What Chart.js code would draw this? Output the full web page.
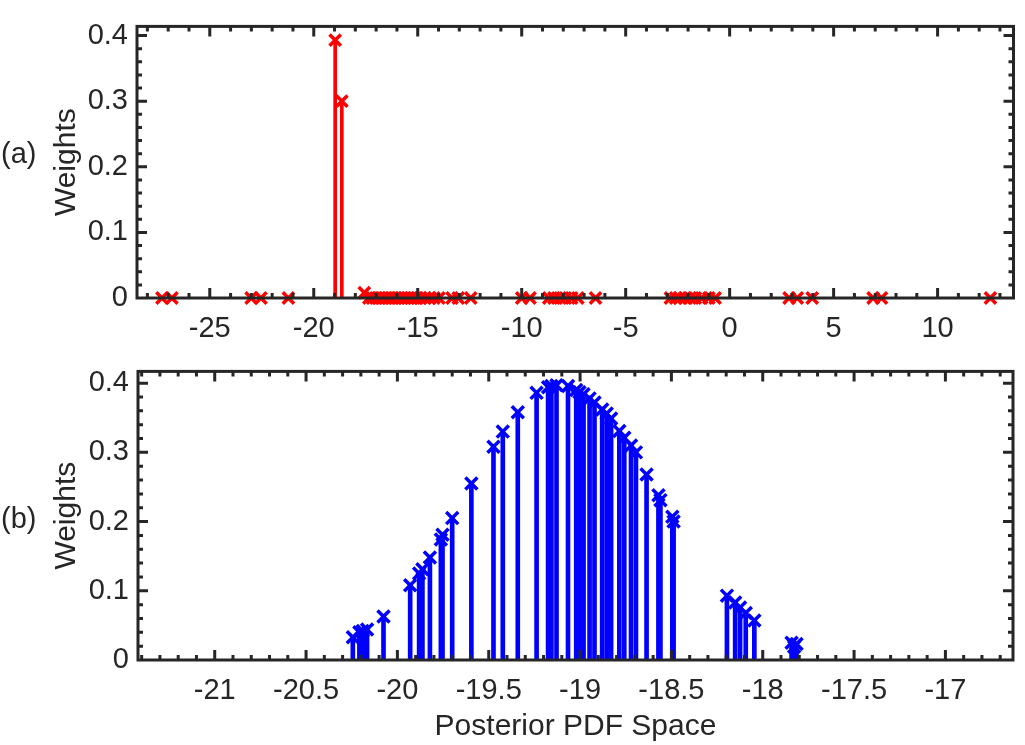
<!DOCTYPE html>
<html>
<head>
<meta charset="utf-8">
<script src="https://cdn.jsdelivr.net/npm/chart.js@4.4.1/dist/chart.umd.min.js"></script>
<style>
  html, body { margin: 0; padding: 0; background: #fff; }
  #wrap  { position: relative; width: 1025px; height: 745px; overflow: hidden; font-family: "Liberation Sans", Arial, sans-serif; }
  canvas { position: absolute; left: 0; }
  .tag   { position: absolute; left: 1px; font-size: 29px; line-height: 1; color: #262626; }
</style>
</head>
<body>
<div id="wrap">
  <canvas id="chartA" width="1025" height="360" style="top:0"></canvas>
  <canvas id="chartB" width="1025" height="400" style="top:345px"></canvas>
  <div class="tag" style="top:139px">(a)</div>
  <div class="tag" style="top:504px">(b)</div>
</div>

<script>
// (a) full posterior space: particle positions and weights
const aX = [
  -27.30, -26.82, -23.01, -22.54, -21.22,
  -18.97, -18.65, -17.57,
  -17.35, -17.18, -17.02, -16.86, -16.70, -16.55, -16.40, -16.24, -16.08, -15.92, -15.77,
  -15.62, -15.47, -15.32, -15.17, -15.02, -14.85, -14.65, -14.45, -14.22, -13.98,
  -13.35, -13.05, -12.45,
  -10.00, -9.60,
  -8.70, -8.45, -8.15, -7.90, -7.60, -7.30, -6.45,
  -2.85, -2.60, -2.40, -2.15, -1.90, -1.65, -1.35, -1.00, -0.70,
  2.86, 3.25, 3.97, 6.90, 7.30, 12.54
]
const aY = [
  0, 0, 0, 0, 0,
  0.393, 0.300, 0.008,
  0, 0, 0, 0, 0, 0, 0, 0, 0, 0, 0,
  0, 0, 0, 0, 0, 0, 0, 0, 0, 0,
  0, 0, 0,
  0, 0,
  0, 0, 0, 0, 0, 0, 0,
  0, 0, 0, 0, 0, 0, 0, 0, 0,
  0, 0, 0, 0, 0, 0
]

// (b) zoom on the main mode
const bX = [
  -20.244, -20.208, -20.190, -20.166, -20.076,
  -19.930, -19.881, -19.863, -19.822, -19.762, -19.753, -19.700,
  -19.595, -19.474, -19.423, -19.341, -19.238,
  -19.175, -19.157, -19.129, -19.066, -19.021, -19.003, -18.981,
  -18.948, -18.921, -18.879, -18.854, -18.830, -18.785, -18.758, -18.721, -18.694,
  -18.636, -18.571, -18.560, -18.495, -18.488,
  -18.196, -18.151, -18.124, -18.093, -18.046,
  -17.842, -17.828, -17.815
]
const bY = [
  0.033, 0.040, 0.042, 0.044, 0.063,
  0.108, 0.125, 0.131, 0.148, 0.174, 0.181, 0.205,
  0.255, 0.308, 0.330, 0.358, 0.386,
  0.394, 0.396, 0.397, 0.396, 0.390, 0.387, 0.384,
  0.378, 0.372, 0.362, 0.356, 0.349, 0.331, 0.321, 0.310, 0.300,
  0.268, 0.238, 0.231, 0.207, 0.200,
  0.093, 0.083, 0.076, 0.068, 0.057,
  0.025, 0.019, 0.023
]

const aXTicks = [-25, -20, -15, -10, -5, 0, 5, 10]
const bXTicks = [-21, -20.5, -20, -19.5, -19, -18.5, -18, -17.5, -17]
const yTicks  = [0, 0.1, 0.2, 0.3, 0.4]

const axisColor = '#262626'
const fontFam   = '"Liberation Sans", Arial, Helvetica, sans-serif'
const tickSize  = 29
const titleSize = 30

// MATLAB-like box with inward major/minor ticks on all four sides
const boxAxes = {
  id: 'boxAxes',
  afterDatasetsDraw(chart, args, opts)
  {
    const { ctx, chartArea: a, scales: { x, y } } = chart
    const majorLen = 10, minorLen = 5

    const each = (min, max, step, fn) => {
      const n0 = Math.ceil(min / step - 1e-9)
      for( let i = n0; i * step <= max + 1e-9; i++ ) fn(i * step)
    }

    ctx.save()
    ctx.strokeStyle = axisColor
    ctx.lineWidth   = 3
    ctx.beginPath()

    const xTick = (v, len) => {
      const px = x.getPixelForValue(v)
      if( px <= a.left + 1 || px >= a.right - 1 ) return
      ctx.moveTo(px, a.bottom); ctx.lineTo(px, a.bottom - len)
      ctx.moveTo(px, a.top);    ctx.lineTo(px, a.top + len)
    }
    const yTick = (v, len) => {
      const py = y.getPixelForValue(v)
      if( py <= a.top + 1 || py >= a.bottom - 1 ) return
      ctx.moveTo(a.left, py);  ctx.lineTo(a.left + len, py)
      ctx.moveTo(a.right, py); ctx.lineTo(a.right - len, py)
    }

    each(x.min, x.max, opts.xMinor, v => xTick(v, minorLen))
    each(y.min, y.max, opts.yMinor, v => yTick(v, minorLen))
    x.ticks.forEach(t => xTick(t.value, majorLen))
    y.ticks.forEach(t => yTick(t.value, majorLen))
    ctx.stroke()

    ctx.strokeRect(a.left, a.top, a.right - a.left, a.bottom - a.top)
    ctx.restore()
  }
}

function makeChart(id, xs, ys, color, cfg)
{
  const points = xs.map((x, i) => ({ x: x, y: ys[i] }))

  return new Chart(document.getElementById(id), {
    type: 'scatter',
    data: {
      datasets: [
        {
          type:             'scatter',
          data:             points,
          pointStyle:       'crossRot',
          pointRadius:      cfg.markerRadius,
          borderColor:      color,
          backgroundColor:  color,
          pointBorderWidth: 3.5,
          clip:             false,
          order:            0
        },
        {
          type:            'bar',
          data:            points,
          backgroundColor: color,
          barThickness:    cfg.stemWidth,
          order:           1
        }
      ]
    },
    options: {
      responsive: false,
      animation:  false,
      layout: { padding: cfg.padding },
      plugins: {
        legend:  { display: false },
        tooltip: { enabled: false },
        boxAxes: { xMinor: cfg.xMinor, yMinor: 0.02 }
      },
      scales: {
        x: {
          type:   'linear',
          min:    cfg.xMin,
          max:    cfg.xMax,
          offset: false,
          grid:   { display: false, drawTicks: false },
          border: { display: false },
          afterBuildTicks: s => { s.ticks = cfg.xTicks.map(v => ({ value: v })) },
          afterFit: s => { s.height = cfg.xHeight },
          ticks: {
            autoSkip: false, maxRotation: 0, padding: 14,
            color: axisColor, font: { family: fontFam, size: tickSize },
            callback: v => String(v)
          },
          title: cfg.xTitle
            ? { display: true, text: cfg.xTitle, color: axisColor, padding: { top: 0, bottom: 0 },
                font: { family: fontFam, size: titleSize } }
            : { display: false }
        },
        y: {
          type:   'linear',
          min:    0,
          max:    cfg.yMax,
          grid:   { display: false, drawTicks: false },
          border: { display: false },
          afterBuildTicks: s => { s.ticks = yTicks.map(v => ({ value: v })) },
          afterFit: s => { s.width = cfg.yWidth },
          ticks: {
            padding: 9, color: axisColor, font: { family: fontFam, size: tickSize },
            callback: v => String(v)
          },
          title: {
            display: true, text: 'Weights', color: axisColor,
            padding: { top: 49, bottom: 0 },
            font: { family: fontFam, size: titleSize }
          }
        }
      }
    },
    plugins: [boxAxes]
  })
}

makeChart('chartA', aX, aY, '#ff0000', {
  xMin: -28.5, xMax: 13.65, yMax: 0.414, xTicks: aXTicks, xMinor: 1,
  markerRadius: 8, stemWidth: 3,
  padding: { left: 0, top: 2, right: 4, bottom: 0 },
  yWidth: 137, xHeight: 62
})

makeChart('chartB', bX, bY, '#0000ff', {
  xMin: -21.42, xMax: -16.63, yMax: 0.417, xTicks: bXTicks, xMinor: 0.1,
  markerRadius: 8.5, stemWidth: 4,
  padding: { left: 0, top: 22, right: 6, bottom: 0 },
  yWidth: 138, xHeight: 85,
  xTitle: 'Posterior PDF Space'
})
</script>
</body>
</html>
